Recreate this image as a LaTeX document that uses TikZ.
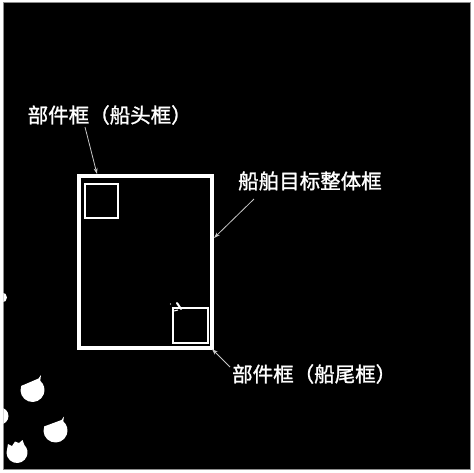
\documentclass[tikz,border=0pt]{standalone}
\usepackage{fontspec}
\newfontfamily\cjk[FakeBold=1.2]{Noto Sans CJK SC}
\usetikzlibrary{arrows.meta,calc}
\begin{document}
\begin{tikzpicture}[x=1pt,y=-1pt,
  lbl/.style={text=white,font=\cjk\fontsize{20.5}{24}\selectfont,inner sep=0pt,anchor=west},
  ptr/.style={draw=black!22,line width=0.8pt,-{Stealth[length=6pt,width=4pt]}},
  bigbox/.style={draw=white,line width=4pt,minimum width=133pt,minimum height=172pt,inner sep=0pt},
  partbox/.style={draw=white,line width=2.3pt,inner sep=0pt},
  blob/.style={fill=white}
]
\useasboundingbox (0,0) rectangle (474,472);
\fill[white] (0,0) rectangle (474,472);
\draw[fill=black,draw=black!45,line width=0.8pt] (3,2) rectangle (470,469);

% boxes
\node[bigbox] (big) at (145.5,262) {};
\node[partbox,minimum width=33pt,minimum height=34pt] (head) at (101.5,201) {};
\node[partbox,minimum width=35pt,minimum height=35pt] (tail) at (190.5,325.5) {};

% labels
\node[lbl] (headlbl) at (27.5,115) {部件框（船头框）};
\node[lbl] (shiplbl) at (238,181) {船舶目标整体框};
\node[lbl] (taillbl) at (232,374) {部件框（船尾框）};

% arrows
\coordinate (h0) at (85,127);
\coordinate (s0) at (254,199);
\coordinate (t0) at (230,367);
\draw[ptr] (h0) -- ($(big.north west)+(20,0)$);
\draw[ptr] (s0) -- ($(big.east)+(0,-24)$);
\draw[ptr] (t0) -- ($(big.south east)+(-2,-1)$);

% small marks near tail box
\draw[white,line width=2pt,line cap=round] (177,303) -- (181,309);
\draw[white,line width=1pt] (174,311) -- (178,310);
\fill[white] (170.5,304) circle (0.6);

% blobs
\begin{scope}
\clip (3.4,2.4) rectangle (469.6,468.6);
\fill[blob] (32.5,390) ++(200:12) arc[start angle=200,end angle=-50,radius=12] -- (41,375) -- (38.5,378.5) -- cycle;
\fill[blob] (55.5,430.5) ++(200:12) arc[start angle=200,end angle=-50,radius=12] -- (64,416.5) -- (61.5,420) -- cycle;
\fill[blob] (17,452.5) ++(200:10.5) arc[start angle=200,end angle=-45,radius=10.5] -- (22.5,440) -- (19,443) -- (15,441.5) -- (12,446) -- (8,444) -- cycle;
\fill[blob] (0,416) circle (8.5);
\fill[blob] (2,297.5) circle (5);
\end{scope}
\end{tikzpicture}
\end{document}
